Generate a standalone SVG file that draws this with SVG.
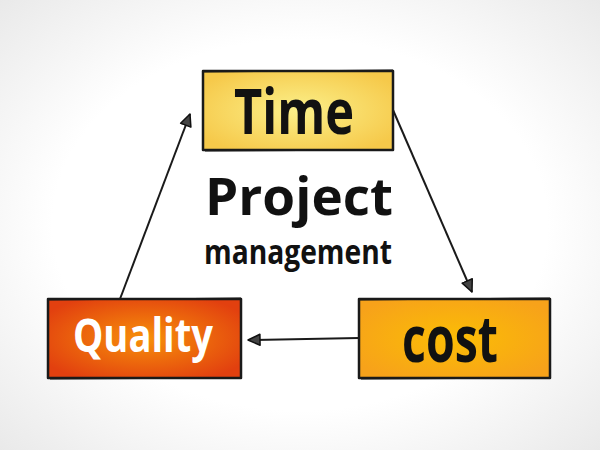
<svg xmlns="http://www.w3.org/2000/svg" width="600" height="450" viewBox="0 0 600 450">
<defs>
<radialGradient id="bg" cx="50%" cy="50%" r="75%">
<stop offset="0.55" stop-color="#ffffff"/>
<stop offset="1" stop-color="#e6e6e6"/>
</radialGradient>
<radialGradient id="gTime" cx="50%" cy="50%" r="60%">
<stop offset="0" stop-color="#fbf08a"/>
<stop offset="1" stop-color="#f6c94a"/>
</radialGradient>
<radialGradient id="gQual" cx="50%" cy="50%" r="60%">
<stop offset="0" stop-color="#f7900a"/>
<stop offset="1" stop-color="#e2400f"/>
</radialGradient>
<radialGradient id="gCost" cx="50%" cy="50%" r="60%">
<stop offset="0" stop-color="#fbbd05"/>
<stop offset="1" stop-color="#f7a21a"/>
</radialGradient>
<marker id="ah" viewBox="0 0 14 14" refX="13" refY="7" markerWidth="14" markerHeight="14" markerUnits="userSpaceOnUse" orient="auto">
<path d="M1,1.5 L13,7 L1,12.5 Z" fill="#444" stroke="#111" stroke-width="1.5" stroke-linejoin="round"/>
</marker>
</defs>
<style>
.box{stroke:#1a1a1a;stroke-width:2.5;stroke-linejoin:round}
.edge{stroke:#1a1a1a;stroke-width:2;fill:none;marker-end:url(#ah)}
.lbl{font-family:"Open Sans","DejaVu Sans",sans-serif;font-weight:bold;text-anchor:middle}
</style>
<rect x="0" y="0" width="600" height="450" fill="url(#bg)"/>
<g id="connectors">
<path class="edge" d="M120,299 L190,114"/>
<path class="edge" d="M393,110 L472,292"/>
<path class="edge" d="M359,338 L248,340"/>
</g>
<g id="time">
<rect class="box" x="203" y="71" width="190" height="79" fill="url(#gTime)"/>
<path d="M204,72 L393,70 M391,150 L205,151" stroke="#1a1a1a" stroke-width="1.2" fill="none"/>
<text class="lbl" x="294" y="134" font-size="62" fill="#111" textLength="120" lengthAdjust="spacingAndGlyphs">Time</text>
</g>
<g id="quality">
<rect class="box" x="48" y="299" width="193" height="79" fill="url(#gQual)"/>
<path d="M49,300 L241,298 M240,378 L50,379" stroke="#1a1a1a" stroke-width="1.2" fill="none"/>
<text class="lbl" x="143" y="352" font-size="46" fill="#ffffff" textLength="140" lengthAdjust="spacingAndGlyphs">Quality</text>
</g>
<g id="cost">
<rect class="box" x="359" y="299" width="191" height="79" fill="url(#gCost)"/>
<path d="M360,300 L550,298 M549,378 L361,379" stroke="#1a1a1a" stroke-width="1.2" fill="none"/>
<text class="lbl" x="450" y="362" font-size="64" fill="#111" textLength="96" lengthAdjust="spacingAndGlyphs">cost</text>
</g>
<g id="title">
<text class="lbl" x="299" y="215" font-size="52" fill="#111" textLength="188" lengthAdjust="spacingAndGlyphs">Project</text>
<text class="lbl" x="298" y="264" font-size="34" fill="#111" textLength="188" lengthAdjust="spacingAndGlyphs">management</text>
</g>
</svg>
